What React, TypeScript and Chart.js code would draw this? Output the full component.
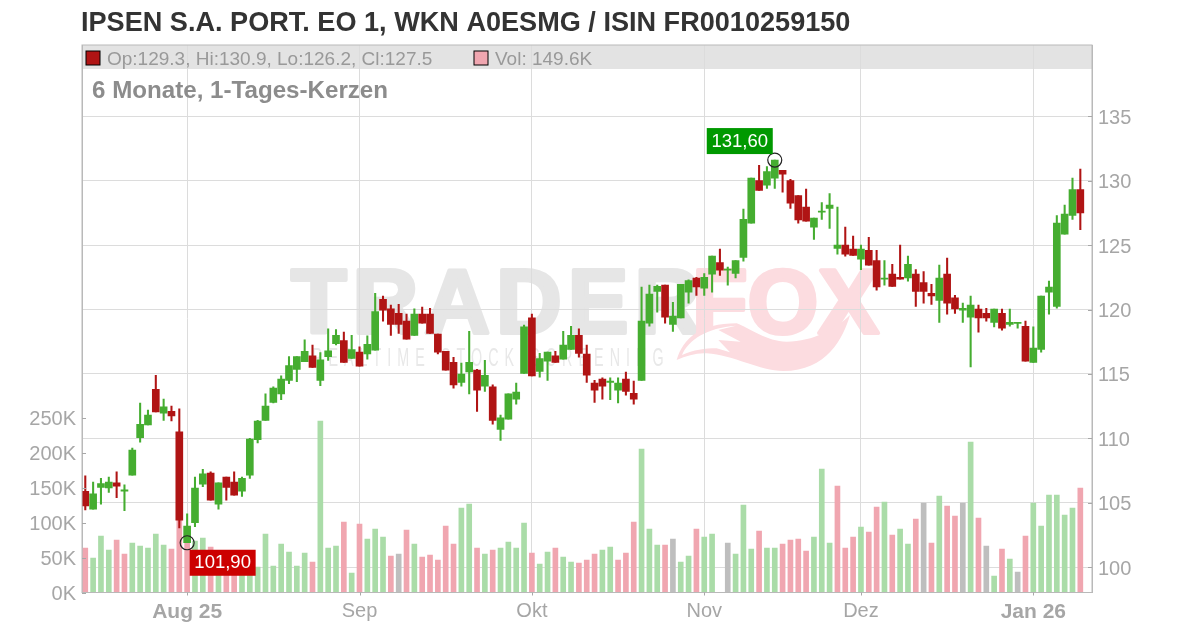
import React, { useEffect, useRef } from "react";
import { Chart, registerables } from "chart.js";

Chart.register(...registerables);

const chartTitle = "IPSEN S.A. PORT. EO 1, WKN A0ESMG / ISIN FR0010259150";
const subTitle = "6 Monate, 1-Tages-Kerzen";

const monthTickIndex = [13, 35, 57, 79, 99, 121];
const monthTickLabels = ["Aug 25", "Sep", "Okt", "Nov", "Dez", "Jan 26"];
const boldMonthLabels = ["Aug 25", "Jan 26"];
const priceTicks = [100, 105, 110, 115, 120, 125, 130, 135];
const volumeTicks = [0, 50000, 100000, 150000, 200000, 250000];

const opens = [
  105.9, 104.5, 106.2, 106.15, 106.55, 105.9, 107.15, 110.05, 111.05, 113.8,
  111.95, 112.1, 110.5, 101.9, 103.45, 106.45, 107.3, 104.9, 107, 106.6,
  105.9, 107.15, 109.9, 111.4, 112.8, 113.45, 114.5, 115.35, 115.95, 116.4,
  114.5, 116.35, 117.35, 117.6, 116.2, 116.7, 116.55, 116.85, 120.8, 120.05,
  119.7, 119.1, 118, 119.65, 119.65, 118.1, 116.75, 115.9, 114.35, 115.15,
  115.3, 114.05, 114, 110.7, 111.5, 113.05, 115.05, 119.35, 115.2, 116,
  116.4, 116.15, 116.9, 118, 116.55, 114.3, 114.6, 114.35, 113.75, 114.6,
  113.5, 114.5, 118.95, 121.4, 121.9, 118.85, 119.35, 121.35, 122.45, 121.65,
  122.75, 123.65, 123.05, 122.8, 124.05, 126.7, 130, 129.65, 130.2, 130.8,
  130, 128.85, 127.95, 126.4, 127.55, 127.85, 124.75, 125, 124.7, 123.9,
  124.6, 123.8, 122.35, 122.75, 122.5, 122.45, 122.75, 122.1, 121.25, 120.7,
  122.75, 120.9, 119.95, 119.4, 120.03, 119.7, 119, 119.7, 118.85, 118.92,
  118.7, 115.9, 116.9, 121.35, 120.25, 125.85, 127.3, 129.3,
];
const highs = [
  107.1, 106.6, 106.9, 107, 107.4, 106.4, 109.25, 112.75, 112.2, 114.9,
  113.05, 112.5, 112.3, 104.15, 107, 107.6, 107.4, 106.55, 107, 107.4,
  107, 110, 111.4, 113.45, 114, 114.85, 116.35, 116.35, 117.65, 117.25,
  116.65, 118.5, 118.45, 118.25, 118, 117.1, 117.95, 121.25, 121.05, 120.35,
  120.4, 119.65, 120.05, 120.2, 120.1, 118.1, 116.75, 116.3, 115.85, 118.3,
  115.35, 116.05, 114.15, 111.8, 113.45, 114.3, 118.8, 119.65, 116.6, 116.7,
  116.75, 118.3, 118.7, 118.5, 117.25, 114.5, 114.7, 114.7, 114.7, 115.15,
  114.45, 121.75, 121.9, 121.9, 121.9, 120.55, 121.95, 122.3, 122.5, 122.8,
  124.15, 124.7, 123.3, 123.8, 127.8, 130.2, 131.2, 131.1, 131.6, 130.8,
  130.1, 128.85, 129.35, 127.1, 128.3, 129, 127.95, 126.4, 125.7, 125,
  125.6, 124.6, 123.8, 123.5, 125, 124.15, 123.1, 122.95, 121.95, 123.45,
  124, 121.1, 120.5, 121.05, 120.35, 120.1, 120.03, 120.03, 120.03, 119,
  119.1, 118.65, 121.05, 122.2, 127.3, 128.1, 130.2, 130.9,
];
const lows = [
  104.45, 104.5, 104.9, 105.8, 105.4, 104.4, 107.15, 109.7, 111.05, 112.05,
  111.4, 111.35, 103.05, 101.9, 103.15, 106.25, 105.2, 104.5, 105.2, 105.6,
  105.5, 106.9, 109.65, 111.4, 112.75, 113, 114.25, 114.4, 115.95, 115.5,
  114.1, 116.05, 117.25, 115.9, 116.2, 115.6, 116.15, 116.85, 119.1, 118,
  118.15, 117.7, 118, 118.95, 118.15, 116.55, 115.3, 113.9, 114.05, 113.45,
  112.1, 113.65, 111.1, 109.85, 111.5, 112.65, 115.05, 114.85, 114.75, 114.5,
  115.9, 116.15, 116.9, 116.3, 114.35, 112.8, 113.05, 113, 112.75, 113.35,
  112.65, 114.5, 118.7, 119.8, 118.95, 118.3, 119.35, 120.5, 121.1, 121.1,
  121.35, 122.65, 121.9, 122.45, 123.75, 126.7, 129.25, 129.4, 129.4, 129.1,
  127.85, 126.7, 126.85, 125.45, 127, 126.3, 124.3, 124.15, 124.2, 123.1,
  123.45, 121.5, 121.9, 121.8, 122.35, 122.2, 120.25, 120.5, 120.4, 119,
  119.65, 119.7, 119, 115.55, 118.25, 119.1, 118.65, 118.4, 118.7, 118.55,
  116, 115.9, 116.7, 119.65, 120.1, 125.85, 127, 126.2,
];
const closes = [
  104.75, 105.7, 106.5, 106.6, 106.3, 106, 109.1, 111.1, 111.8, 112.05,
  112.45, 111.75, 103.65, 103.2, 106.15, 107.25, 105.2, 106.55, 106.2, 105.6,
  106.9, 109.95, 111.35, 112.5, 113.9, 114.6, 115.65, 116.35, 116.75, 115.5,
  116.1, 116.8, 118, 115.9, 116.9, 115.6, 117.3, 119.85, 119.95, 118.85,
  118.85, 117.7, 119.65, 118.95, 118.15, 116.7, 115.3, 114.15, 115, 115.9,
  113.75, 114.9, 111.4, 111.6, 113.45, 113.6, 118.65, 114.85, 116.2, 116.7,
  115.9, 117.25, 118, 116.6, 114.9, 113.75, 114.05, 114.45, 114.3, 113.65,
  113.05, 119.1, 121.2, 121.8, 119.4, 119.5, 121.95, 122.25, 121.75, 122.5,
  124.15, 123.05, 123.13, 123.8, 127, 130.2, 129.25, 130.7, 131.6, 130.5,
  128.25, 126.95, 126.85, 127.1, 127.62, 128.1, 125, 124.3, 124.2, 124.7,
  123.45, 121.75, 122.43, 121.8, 122.35, 123.5, 121.4, 121.4, 121.05, 122.45,
  120.5, 120.05, 120.1, 120.35, 119.35, 119.35, 120.03, 118.55, 119, 119,
  116, 117, 121.05, 121.75, 126.7, 127.4, 129.3, 127.5,
];
const volumes = [
  63500, 49200, 80700, 60700, 75000, 54900, 70700, 66400, 63500, 83600,
  67800, 62100, 105000, 85000, 73500, 77800, 65000, 55000, 55000, 50000,
  55000, 60000, 36300, 83600, 37700, 69300, 57800, 37700, 56400, 43500,
  245500, 63500, 66400, 100800, 27700, 97900, 76400, 90700, 79300, 52000,
  54900, 89300, 69300, 50600, 53500, 46300, 95000, 69300, 120800, 126600,
  63500, 54900, 60700, 63500, 72100, 63500, 99300, 56400, 40600, 57800,
  63500, 50600, 43500, 42000, 46300, 54900, 60700, 65000, 46300, 56400,
  100800, 205400, 90700, 67800, 67800, 76400, 43500, 52000, 90700, 79300,
  83600, 0, 70700, 54900, 125100, 62100, 87900, 63500, 63500, 69300,
  75000, 76400, 59200, 79300, 176700, 70700, 152400, 63500, 79300, 93600,
  86400, 122300, 129400, 82100, 90700, 69300, 105100, 128000, 70700, 138000,
  123700, 109400, 128000, 215400, 106500, 66400, 23400, 62100, 47800, 29100,
  80700, 128000, 95000, 139500, 139500, 110800, 120800, 149600,
];
// r = down day, g = up day, n = unchanged day
const volumeKinds =
  "rgggrrgggg" + "grrrggrgrr" + "gggggggggr" + "gggrgrgggr" +
  "nrgrrrrrgg" + "rgrggggrgg" + "rggrrrggrr" + "rgggrnggrg" +
  "ggngggrggr" + "rrrgggrrrg" + "rrgrggrnrg" + "rrngrngrgn" +
  "rggggggr";

const candleUp = "#45ad30";
const candleDown = "#b01414";
const volumeUp = "#aadca8";
const volumeDown = "#f0a6b0";
const volumeFlat = "#bebebe";
const frameGrey = "#b9b9b9";
const gridGrey = "#dcdcdc";
const tickGrey = "#a6a6a6";
const FONT = "'Liberation Sans', Arial, sans-serif";

const fmtDe = (v: number) => v.toFixed(2).replace(".", ",");
const fmtK = (v: number) => v / 1000 + "K";

const drawFoxTail = (ctx: any) => {
  const zx = (v: number) => 670 + v / 3;
  const zy = (v: number) => 315 + v / 3;
  const curve = (a: number, b: number, c: number, d: number, e: number, f: number) =>
    ctx.bezierCurveTo(zx(a), zy(b), zx(c), zy(d), zx(e), zy(f));
  ctx.fillStyle = "#fcdce0";
  ctx.beginPath();
  ctx.moveTo(zx(20), zy(135));
  curve(40, 70, 90, 25, 200, 25);
  curve(240, 40, 290, 80, 350, 80);
  curve(430, 80, 500, 40, 540, 0);
  curve(520, 70, 470, 168, 340, 168);
  curve(270, 168, 190, 120, 110, 115);
  curve(80, 113, 50, 122, 20, 135);
  ctx.fill();
  ctx.fillStyle = "#ffffff";
  ctx.beginPath();
  ctx.moveTo(zx(36), zy(120));
  curve(55, 75, 110, 38, 198, 32);
  ctx.lineTo(zx(145), zy(45));
  ctx.lineTo(zx(212), zy(80));
  ctx.lineTo(zx(145), zy(75));
  ctx.lineTo(zx(180), zy(112));
  ctx.lineTo(zx(140), zy(100));
  curve(105, 100, 70, 105, 36, 120);
  ctx.fill();
};

const decorPlugin = {
  id: "decor",
  beforeDraw(chart: any) {
    const { ctx, chartArea: a } = chart;
    ctx.save();
    // header band
    ctx.fillStyle = "#e3e3e3";
    ctx.fillRect(a.left, a.top, a.right - a.left, 24);
    // watermark
    ctx.textBaseline = "alphabetic";
    ctx.textAlign = "left";
    ctx.lineJoin = "round";
    ctx.font = `bold 91px ${FONT}`;
    ctx.fillStyle = "#e6e6e6";
    ctx.strokeStyle = "#e6e6e6";
    ctx.lineWidth = 4;
    ctx.letterSpacing = "6px";
    ctx.fillText("TRADER", 291, 333);
    ctx.strokeText("TRADER", 291, 333);
    ctx.letterSpacing = "0px";
    ctx.fillStyle = "#fcdce0";
    ctx.strokeStyle = "#fcdce0";
    ctx.fillText("FOX", 692, 333);
    ctx.strokeText("FOX", 692, 333);
    ctx.save();
    ctx.translate(312, 366);
    ctx.scale(0.55, 1);
    ctx.font = `26px ${FONT}`;
    ctx.fillStyle = "#e8e8e8";
    ctx.letterSpacing = "11px";
    ctx.fillText("REALTIME STOCK SCREENING", 0, 0);
    ctx.letterSpacing = "0px";
    ctx.restore();
    drawFoxTail(ctx);
    ctx.restore();
  },
  afterDatasetsDraw(chart: any) {
    const { ctx, chartArea: a, scales } = chart;
    const x = scales.x;
    const p = scales.price;
    const v = scales.volume;
    ctx.save();

    // frame and tick marks
    ctx.strokeStyle = frameGrey;
    ctx.lineWidth = 1;
    ctx.strokeRect(a.left, a.top, a.right - a.left, a.bottom - a.top);
    ctx.strokeStyle = "#a8a8a8";
    ctx.lineWidth = 1;
    ctx.beginPath();
    priceTicks.forEach((t) => {
      const y = Math.round(p.getPixelForValue(t)) + 0.5;
      ctx.moveTo(a.right - 4, y);
      ctx.lineTo(a.right, y);
    });
    volumeTicks.forEach((t) => {
      const y = Math.round(v.getPixelForValue(t)) + 0.5;
      ctx.moveTo(a.left, y);
      ctx.lineTo(a.left + 4, y);
    });
    monthTickIndex.forEach((t) => {
      const px = Math.round(x.getPixelForValue(t)) + 0.5;
      ctx.moveTo(px, a.bottom);
      ctx.lineTo(px, a.bottom + 3);
    });
    ctx.stroke();

    // titles
    ctx.textBaseline = "alphabetic";
    ctx.textAlign = "left";
    ctx.fillStyle = "#333333";
    ctx.font = `bold 27.1px ${FONT}`;
    ctx.fillText(chartTitle, 81, 31);

    const n = closes.length - 1;
    ctx.fillStyle = closes[n] >= opens[n] ? candleUp : candleDown;
    ctx.fillRect(86, 51, 14, 14);
    ctx.strokeStyle = "#000";
    ctx.lineWidth = 1;
    ctx.strokeRect(86, 51, 14, 14);
    ctx.fillStyle = volumeDown;
    ctx.fillRect(474, 51, 14, 14);
    ctx.strokeRect(474, 51, 14, 14);

    ctx.fillStyle = "#999999";
    ctx.font = `19px ${FONT}`;
    ctx.fillText(
      `Op:${opens[n]}, Hi:${highs[n]}, Lo:${lows[n].toFixed(1)}, Cl:${closes[n]}`,
      107,
      65
    );
    ctx.fillText(`Vol: ${(volumes[n] / 1000).toFixed(1)}K`, 495, 65);

    ctx.fillStyle = "#8c8c8c";
    ctx.font = `bold 24.15px ${FONT}`;
    ctx.fillText(subTitle, 92, 98);

    // extreme markers
    const hiVal = Math.max(...highs);
    const loVal = Math.min(...lows);
    const hiX = x.getPixelForValue(highs.indexOf(hiVal));
    const hiY = p.getPixelForValue(hiVal);
    const loX = x.getPixelForValue(lows.indexOf(loVal));
    const loY = p.getPixelForValue(loVal);
    ctx.strokeStyle = "#222";
    ctx.lineWidth = 1.2;
    [[hiX, hiY], [loX, loY]].forEach(([cx, cy]) => {
      ctx.beginPath();
      ctx.arc(cx, cy, 7, 0, Math.PI * 2);
      ctx.stroke();
    });

    ctx.font = `18.5px ${FONT}`;
    ctx.textAlign = "center";
    ctx.textBaseline = "middle";
    ctx.fillStyle = "#009900";
    ctx.fillRect(hiX - 68, hiY - 32, 66, 26);
    ctx.fillStyle = "#ffffff";
    ctx.fillText(fmtDe(hiVal), hiX - 35, hiY - 18.5);
    ctx.fillStyle = "#cc0000";
    ctx.fillRect(loX + 2.5, loY + 7, 66, 26);
    ctx.fillStyle = "#ffffff";
    ctx.fillText(fmtDe(loVal), loX + 35.5, loY + 20.5);
    ctx.restore();
  },
};

export default function App() {
  const ref = useRef<HTMLCanvasElement | null>(null);

  useEffect(() => {
    if (!ref.current) return;
    const index = closes.map((_, i) => i);
    const candleColors = index.map((i) =>
      closes[i] >= opens[i] ? candleUp : candleDown
    );
    const volumeColors = index.map((i) =>
      volumeKinds[i] === "g" ? volumeUp : volumeKinds[i] === "r" ? volumeDown : volumeFlat
    );

    const chart = new Chart(ref.current, {
      type: "bar",
      data: {
        datasets: [
          {
            label: "Vol",
            yAxisID: "volume",
            order: 3,
            grouped: false,
            barThickness: 5,
            backgroundColor: volumeColors,
            data: index.map((i) => ({ x: i, y: volumes[i] })),
          },
          {
            label: "High-Low",
            yAxisID: "price",
            order: 2,
            grouped: false,
            barThickness: 1.4,
            backgroundColor: candleColors,
            data: index.map((i) => ({ x: i, y: [lows[i], highs[i]] })),
          },
          {
            label: "Open-Close",
            yAxisID: "price",
            order: 1,
            grouped: false,
            barThickness: 7,
            minBarLength: 1.2,
            backgroundColor: candleColors,
            data: index.map((i) => ({ x: i, y: [opens[i], closes[i]] })),
          },
        ] as any,
      },
      options: {
        responsive: false,
        animation: false,
        devicePixelRatio: 1,
        layout: { padding: { top: 45, left: 0, right: 0, bottom: 0 } },
        plugins: {
          legend: { display: false },
          tooltip: { enabled: false },
          title: { display: false },
        },
        scales: {
          x: {
            type: "linear",
            min: -0.42,
            max: 128.49,
            offset: false,
            afterBuildTicks: (s: any) => {
              s.ticks = monthTickIndex.map((value) => ({ value }));
            },
            afterFit: (s: any) => {
              s.height = 35.5;
            },
            grid: { color: gridGrey, lineWidth: 1, drawTicks: false, offset: false },
            border: { color: frameGrey, width: 1 },
            ticks: {
              autoSkip: false,
              maxRotation: 0,
              padding: 7,
              color: tickGrey,
              font: (ctx: any) => {
                const label = monthTickLabels[monthTickIndex.indexOf(ctx.tick?.value)];
                return boldMonthLabels.includes(label)
                  ? { family: FONT, size: 21, weight: "bold" }
                  : { family: FONT, size: 20, weight: "normal" };
              },
              callback: (v: any) => monthTickLabels[monthTickIndex.indexOf(v)] ?? "",
            },
          },
          volume: {
            type: "linear",
            position: "left",
            min: 0,
            max: 784400,
            afterBuildTicks: (s: any) => {
              s.ticks = volumeTicks.map((value) => ({ value }));
            },
            afterFit: (s: any) => {
              s.width = 82;
            },
            grid: { display: false },
            border: { color: frameGrey, width: 1 },
            ticks: {
              padding: -2,
              labelOffset: 1.5,
              color: tickGrey,
              font: { family: FONT, size: 20 },
              callback: (v: any) => fmtK(Number(v)),
            },
          },
          price: {
            type: "linear",
            position: "right",
            min: 98.04,
            max: 140.53,
            afterBuildTicks: (s: any) => {
              s.ticks = priceTicks.map((value) => ({ value }));
            },
            afterFit: (s: any) => {
              s.width = 108;
            },
            grid: { color: gridGrey, lineWidth: 1, drawTicks: false },
            border: { color: frameGrey, width: 1 },
            ticks: {
              padding: 6,
              labelOffset: 2,
              color: tickGrey,
              font: { family: FONT, size: 20 },
              callback: (v: any) => String(v),
            },
          },
        },
      } as any,
      plugins: [decorPlugin],
    });
    return () => chart.destroy();
  }, []);

  return (
    <div style={{ position: "absolute", left: 0, top: 0, width: 1200, height: 628, background: "#fff" }}>
      <canvas ref={ref} width={1200} height={628} style={{ display: "block" }} />
    </div>
  );
}
